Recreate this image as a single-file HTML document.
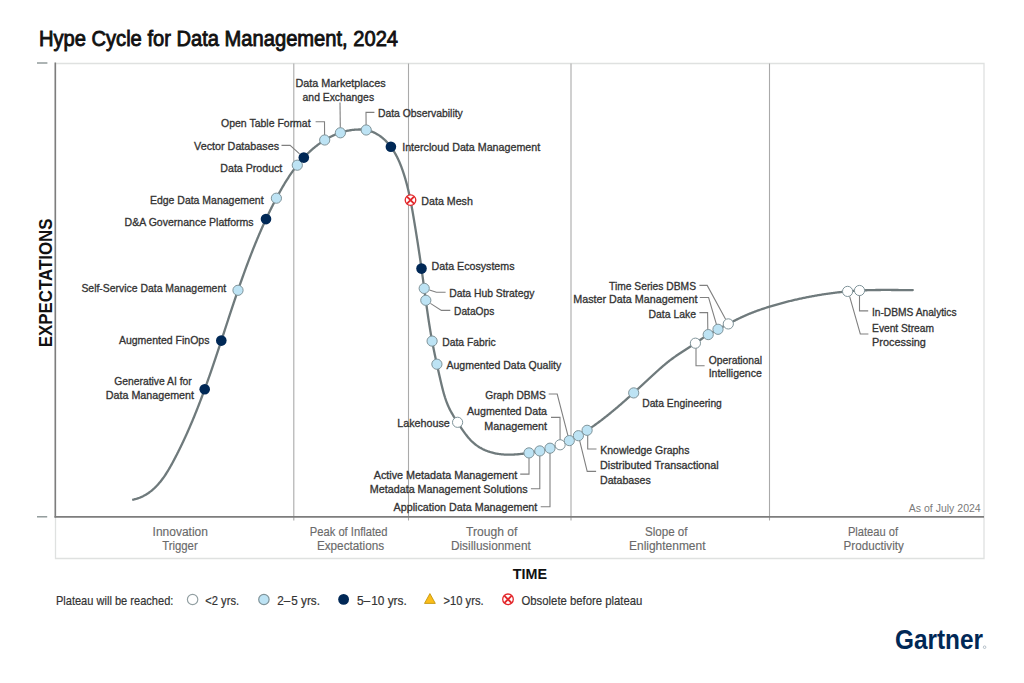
<!DOCTYPE html>
<html><head><meta charset="utf-8"><style>
html,body{margin:0;padding:0;background:#fff;}
svg{display:block;font-family:"Liberation Sans",sans-serif;}
</style></head><body>
<svg width="1024" height="683" viewBox="0 0 1024 683">
<rect x="0" y="0" width="1024" height="683" fill="#fff"/>
<path d="M55.5,63.5 H984 V558.5 H55.5 Z" fill="none" stroke="#dfe1e0" stroke-width="1.3"/>
<line x1="293.8" y1="63.5" x2="293.8" y2="520.5" stroke="#aaaaaa" stroke-width="1.1"/>
<line x1="408.5" y1="63.5" x2="408.5" y2="520.5" stroke="#aaaaaa" stroke-width="1.1"/>
<line x1="571.0" y1="63.5" x2="571.0" y2="520.5" stroke="#aaaaaa" stroke-width="1.1"/>
<line x1="769.5" y1="63.5" x2="769.5" y2="520.5" stroke="#aaaaaa" stroke-width="1.1"/>
<line x1="55.3" y1="62.5" x2="55.3" y2="517.5" stroke="#7d7d7d" stroke-width="1.6"/>
<line x1="54.5" y1="516.9" x2="984" y2="516.9" stroke="#7d7d7d" stroke-width="1.8"/>
<line x1="37" y1="63" x2="47.4" y2="63" stroke="#8a9494" stroke-width="1.4"/>
<line x1="37" y1="516.8" x2="47.2" y2="516.8" stroke="#8a9494" stroke-width="1.4"/>
<text x="38.90" y="45.70" font-size="21.5" font-weight="normal" fill="#111" stroke="#111" stroke-width="0.85" textLength="359.16" lengthAdjust="spacingAndGlyphs">Hype Cycle for Data Management, 2024</text>
<text transform="translate(52.0,347.30) rotate(-90)" x="0" y="0" font-size="17.5" font-weight="bold" fill="#111" textLength="128.81" lengthAdjust="spacingAndGlyphs">EXPECTATIONS</text>
<path d="M133.20,499.71 L134.16,499.48 L135.10,499.22 L136.03,498.96 L136.95,498.67 L137.86,498.36 L138.75,498.04 L139.63,497.71 L140.49,497.35 L141.34,496.98 L142.18,496.60 L143.01,496.20 L143.82,495.78 L144.63,495.35 L145.42,494.90 L146.20,494.44 L146.96,493.97 L147.72,493.48 L148.47,492.98 L149.20,492.46 L149.92,491.93 L150.64,491.39 L151.34,490.84 L152.03,490.27 L152.72,489.69 L153.39,489.10 L154.05,488.50 L154.71,487.89 L155.35,487.26 L155.99,486.63 L156.61,485.99 L157.23,485.33 L157.84,484.67 L158.44,483.99 L159.03,483.31 L159.62,482.62 L160.20,481.92 L160.77,481.21 L161.33,480.50 L161.89,479.77 L162.43,479.04 L162.98,478.30 L163.51,477.56 L164.04,476.81 L164.56,476.05 L165.08,475.28 L165.59,474.51 L166.10,473.74 L166.60,472.95 L167.09,472.17 L167.58,471.38 L168.06,470.58 L168.54,469.78 L169.02,468.98 L169.49,468.17 L169.96,467.36 L170.42,466.55 L170.88,465.73 L171.34,464.91 L171.79,464.09 L172.24,463.27 L172.69,462.44 L173.13,461.62 L173.57,460.79 L174.01,459.96 L174.44,459.14 L174.88,458.31 L175.31,457.48 L175.74,456.65 L176.17,455.82 L176.60,454.99 L177.02,454.16 L177.44,453.33 L177.86,452.50 L178.28,451.67 L178.69,450.83 L179.11,450.00 L179.52,449.17 L179.93,448.34 L180.34,447.50 L180.74,446.67 L181.15,445.83 L181.55,445.00 L181.95,444.16 L182.35,443.33 L182.75,442.49 L183.14,441.65 L183.54,440.82 L183.93,439.98 L184.32,439.14 L184.71,438.30 L185.09,437.46 L185.48,436.62 L185.86,435.78 L186.24,434.94 L186.62,434.10 L187.00,433.26 L187.38,432.42 L187.75,431.58 L188.12,430.74 L188.50,429.89 L188.87,429.05 L189.24,428.21 L189.60,427.36 L189.97,426.52 L190.33,425.67 L190.70,424.83 L191.06,423.98 L191.42,423.14 L191.77,422.29 L192.13,421.44 L192.49,420.59 L192.84,419.74 L193.20,418.90 L193.55,418.05 L193.90,417.20 L194.25,416.35 L194.59,415.50 L194.94,414.64 L195.29,413.79 L195.63,412.94 L195.97,412.09 L196.31,411.24 L196.65,410.38 L196.99,409.53 L197.33,408.67 L197.67,407.82 L198.00,406.96 L198.34,406.11 L198.67,405.25 L199.01,404.39 L199.34,403.54 L199.67,402.68 L200.00,401.82 L200.33,400.96 L200.65,400.10 L200.98,399.24 L201.30,398.38 L201.63,397.52 L201.95,396.66 L202.28,395.80 L202.60,394.94 L202.92,394.07 L203.24,393.21 L203.56,392.35 L203.87,391.49 L204.19,390.62 L204.51,389.76 L204.82,388.89 L205.14,388.03 L205.45,387.16 L205.76,386.30 L206.07,385.43 L206.39,384.56 L206.70,383.70 L207.01,382.83 L207.31,381.96 L207.62,381.10 L207.93,380.23 L208.24,379.36 L208.54,378.49 L208.85,377.62 L209.15,376.75 L209.46,375.88 L209.76,375.01 L210.06,374.14 L210.36,373.27 L210.67,372.40 L210.97,371.53 L211.27,370.66 L211.57,369.79 L211.87,368.92 L212.16,368.05 L212.46,367.17 L212.76,366.30 L213.06,365.43 L213.35,364.56 L213.65,363.68 L213.94,362.81 L214.24,361.94 L214.53,361.06 L214.83,360.19 L215.12,359.31 L215.42,358.44 L215.71,357.56 L216.00,356.69 L216.29,355.81 L216.58,354.94 L216.88,354.06 L217.17,353.19 L217.46,352.31 L217.75,351.44 L218.04,350.56 L218.33,349.69 L218.62,348.81 L218.91,347.93 L219.20,347.06 L219.49,346.18 L219.77,345.30 L220.06,344.43 L220.35,343.55 L220.64,342.67 L220.93,341.80 L221.21,340.92 L221.50,340.04 L221.79,339.17 L222.08,338.29 L222.36,337.41 L222.65,336.53 L222.94,335.66 L223.22,334.78 L223.51,333.90 L223.80,333.02 L224.08,332.15 L224.37,331.27 L224.66,330.39 L224.94,329.51 L225.23,328.63 L225.52,327.76 L225.81,326.88 L226.09,326.00 L226.38,325.12 L226.67,324.25 L226.95,323.37 L227.24,322.49 L227.53,321.61 L227.82,320.74 L228.10,319.86 L228.39,318.98 L228.68,318.10 L228.97,317.23 L229.25,316.35 L229.54,315.47 L229.83,314.59 L230.12,313.72 L230.41,312.84 L230.70,311.96 L230.99,311.09 L231.28,310.21 L231.57,309.33 L231.86,308.46 L232.15,307.58 L232.44,306.70 L232.73,305.83 L233.03,304.95 L233.32,304.07 L233.61,303.20 L233.90,302.32 L234.20,301.45 L234.49,300.57 L234.79,299.70 L235.08,298.82 L235.38,297.95 L235.67,297.07 L235.97,296.20 L236.26,295.32 L236.56,294.45 L236.86,293.57 L237.16,292.70 L237.46,291.83 L237.76,290.95 L238.06,290.08 L238.36,289.21 L238.66,288.34 L238.96,287.46 L239.26,286.59 L239.56,285.72 L239.87,284.85 L240.17,283.98 L240.48,283.10 L240.78,282.23 L241.09,281.36 L241.40,280.49 L241.70,279.62 L242.01,278.75 L242.32,277.88 L242.63,277.01 L242.94,276.15 L243.25,275.28 L243.56,274.41 L243.88,273.54 L244.19,272.67 L244.51,271.81 L244.82,270.94 L245.14,270.07 L245.46,269.21 L245.77,268.34 L246.09,267.47 L246.41,266.61 L246.73,265.74 L247.05,264.88 L247.38,264.02 L247.70,263.15 L248.02,262.29 L248.35,261.43 L248.68,260.56 L249.00,259.70 L249.33,258.84 L249.66,257.98 L249.99,257.12 L250.32,256.26 L250.66,255.40 L250.99,254.54 L251.32,253.68 L251.66,252.82 L252.00,251.96 L252.33,251.11 L252.67,250.25 L253.01,249.39 L253.35,248.54 L253.70,247.68 L254.04,246.83 L254.38,245.97 L254.73,245.12 L255.08,244.26 L255.43,243.41 L255.78,242.56 L256.13,241.71 L256.48,240.85 L256.83,240.00 L257.19,239.15 L257.54,238.30 L257.90,237.45 L258.26,236.60 L258.62,235.76 L258.98,234.91 L259.34,234.06 L259.70,233.21 L260.07,232.37 L260.44,231.52 L260.80,230.68 L261.17,229.83 L261.54,228.99 L261.92,228.15 L262.29,227.31 L262.66,226.46 L263.04,225.62 L263.42,224.78 L263.80,223.94 L264.18,223.10 L264.56,222.27 L264.94,221.43 L265.33,220.59 L265.72,219.76 L266.10,218.92 L266.49,218.08 L266.89,217.25 L267.28,216.42 L267.67,215.58 L268.07,214.75 L268.47,213.92 L268.87,213.09 L269.27,212.26 L269.67,211.43 L270.08,210.60 L270.48,209.77 L270.89,208.95 L271.30,208.12 L271.71,207.29 L272.13,206.47 L272.54,205.65 L272.96,204.82 L273.38,204.00 L273.80,203.18 L274.22,202.36 L274.64,201.54 L275.07,200.72 L275.49,199.90 L275.92,199.08 L276.35,198.26 L276.79,197.45 L277.22,196.63 L277.66,195.82 L278.10,195.01 L278.54,194.19 L278.98,193.38 L279.43,192.57 L279.88,191.76 L280.33,190.96 L280.78,190.15 L281.23,189.35 L281.69,188.54 L282.15,187.74 L282.62,186.94 L283.08,186.15 L283.55,185.35 L284.02,184.56 L284.50,183.76 L284.98,182.97 L285.46,182.19 L285.94,181.40 L286.43,180.62 L286.92,179.84 L287.42,179.06 L287.92,178.28 L288.42,177.51 L288.93,176.73 L289.44,175.96 L289.95,175.20 L290.47,174.43 L290.99,173.67 L291.51,172.92 L292.04,172.16 L292.58,171.41 L293.12,170.66 L293.66,169.91 L294.21,169.17 L294.76,168.43 L295.31,167.70 L295.87,166.96 L296.44,166.23 L297.01,165.51 L297.58,164.79 L298.16,164.07 L298.75,163.35 L299.34,162.64 L299.93,161.94 L300.53,161.23 L301.14,160.53 L301.75,159.84 L302.37,159.15 L302.99,158.46 L303.62,157.78 L304.25,157.10 L304.89,156.43 L305.53,155.76 L306.18,155.09 L306.84,154.43 L307.50,153.78 L308.16,153.13 L308.84,152.49 L309.51,151.85 L310.20,151.21 L310.88,150.59 L311.58,149.97 L312.27,149.35 L312.98,148.74 L313.69,148.14 L314.40,147.55 L315.12,146.96 L315.84,146.38 L316.57,145.80 L317.31,145.24 L318.05,144.68 L318.79,144.12 L319.54,143.58 L320.29,143.04 L321.05,142.51 L321.81,141.99 L322.58,141.48 L323.36,140.98 L324.13,140.48 L324.92,139.99 L325.70,139.52 L326.49,139.05 L327.29,138.59 L328.09,138.14 L328.90,137.70 L329.71,137.27 L330.52,136.85 L331.34,136.44 L332.16,136.04 L332.99,135.65 L333.82,135.27 L334.66,134.90 L335.50,134.54 L336.34,134.19 L337.19,133.85 L338.05,133.53 L338.90,133.22 L339.76,132.91 L340.63,132.62 L341.50,132.34 L342.37,132.08 L343.25,131.82 L344.13,131.58 L345.02,131.35 L345.91,131.13 L346.80,130.93 L347.69,130.74 L348.59,130.56 L349.50,130.40 L350.41,130.24 L351.32,130.11 L352.23,129.98 L353.15,129.87 L354.07,129.77 L355.00,129.69 L355.93,129.62 L356.86,129.57 L357.80,129.53 L358.74,129.51 L359.68,129.50 L360.62,129.52 L361.56,129.55 L362.50,129.60 L363.44,129.68 L364.37,129.78 L365.30,129.91 L366.23,130.06 L367.15,130.24 L368.06,130.45 L368.97,130.69 L369.86,130.96 L370.75,131.25 L371.64,131.56 L372.51,131.90 L373.37,132.26 L374.22,132.65 L375.06,133.05 L375.89,133.48 L376.71,133.93 L377.52,134.40 L378.31,134.88 L379.09,135.39 L379.86,135.91 L380.61,136.45 L381.35,137.01 L382.08,137.58 L382.80,138.17 L383.50,138.77 L384.19,139.39 L384.87,140.03 L385.53,140.67 L386.18,141.33 L386.82,142.00 L387.45,142.69 L388.07,143.38 L388.67,144.09 L389.27,144.81 L389.85,145.54 L390.41,146.28 L390.97,147.02 L391.52,147.78 L392.05,148.54 L392.58,149.31 L393.09,150.09 L393.59,150.88 L394.08,151.67 L394.56,152.47 L395.03,153.27 L395.49,154.07 L395.93,154.89 L396.37,155.70 L396.80,156.53 L397.22,157.35 L397.63,158.18 L398.03,159.02 L398.42,159.86 L398.81,160.70 L399.18,161.54 L399.55,162.39 L399.91,163.25 L400.26,164.10 L400.61,164.96 L400.95,165.82 L401.28,166.69 L401.60,167.55 L401.92,168.42 L402.24,169.29 L402.54,170.16 L402.85,171.03 L403.14,171.91 L403.43,172.79 L403.72,173.66 L404.00,174.54 L404.28,175.42 L404.55,176.30 L404.82,177.19 L405.09,178.07 L405.35,178.95 L405.60,179.84 L405.85,180.72 L406.10,181.61 L406.34,182.50 L406.58,183.39 L406.82,184.28 L407.05,185.17 L407.28,186.06 L407.50,186.96 L407.73,187.85 L407.94,188.75 L408.16,189.64 L408.37,190.54 L408.58,191.44 L408.78,192.33 L408.98,193.23 L409.18,194.13 L409.38,195.03 L409.57,195.93 L409.76,196.83 L409.95,197.74 L410.14,198.64 L410.32,199.54 L410.50,200.44 L410.68,201.35 L410.86,202.25 L411.03,203.16 L411.21,204.06 L411.38,204.97 L411.55,205.88 L411.71,206.78 L411.88,207.69 L412.04,208.60 L412.21,209.51 L412.37,210.42 L412.53,211.32 L412.69,212.23 L412.84,213.14 L413.00,214.05 L413.16,214.96 L413.31,215.87 L413.47,216.78 L413.62,217.69 L413.77,218.60 L413.92,219.51 L414.08,220.42 L414.23,221.33 L414.38,222.24 L414.53,223.15 L414.68,224.06 L414.83,224.97 L414.98,225.88 L415.13,226.79 L415.28,227.70 L415.43,228.61 L415.58,229.52 L415.72,230.43 L415.87,231.34 L416.02,232.25 L416.16,233.16 L416.31,234.07 L416.46,234.98 L416.60,235.89 L416.75,236.80 L416.89,237.72 L417.03,238.63 L417.18,239.54 L417.32,240.45 L417.46,241.36 L417.61,242.27 L417.75,243.18 L417.89,244.09 L418.03,245.00 L418.17,245.91 L418.31,246.83 L418.45,247.74 L418.59,248.65 L418.73,249.56 L418.87,250.47 L419.00,251.38 L419.14,252.30 L419.28,253.21 L419.41,254.12 L419.55,255.03 L419.69,255.94 L419.82,256.86 L419.95,257.77 L420.09,258.68 L420.22,259.59 L420.35,260.51 L420.49,261.42 L420.62,262.33 L420.75,263.25 L420.88,264.16 L421.01,265.07 L421.14,265.99 L421.27,266.90 L421.40,267.81 L421.52,268.73 L421.65,269.64 L421.78,270.55 L421.90,271.47 L422.03,272.38 L422.16,273.30 L422.28,274.21 L422.40,275.12 L422.53,276.04 L422.65,276.95 L422.78,277.87 L422.90,278.78 L423.02,279.70 L423.15,280.61 L423.27,281.53 L423.39,282.44 L423.51,283.35 L423.64,284.27 L423.76,285.18 L423.88,286.10 L424.00,287.01 L424.12,287.93 L424.25,288.84 L424.37,289.76 L424.49,290.67 L424.61,291.59 L424.73,292.50 L424.86,293.42 L424.98,294.33 L425.10,295.25 L425.23,296.16 L425.35,297.08 L425.47,297.99 L425.60,298.91 L425.72,299.82 L425.84,300.74 L425.97,301.65 L426.10,302.56 L426.22,303.48 L426.35,304.39 L426.47,305.31 L426.60,306.22 L426.73,307.13 L426.86,308.05 L426.99,308.96 L427.12,309.88 L427.25,310.79 L427.38,311.70 L427.51,312.61 L427.64,313.53 L427.78,314.44 L427.91,315.35 L428.04,316.27 L428.18,317.18 L428.32,318.09 L428.45,319.00 L428.59,319.92 L428.73,320.83 L428.87,321.74 L429.01,322.65 L429.15,323.56 L429.30,324.47 L429.44,325.38 L429.59,326.29 L429.73,327.20 L429.88,328.11 L430.03,329.02 L430.18,329.93 L430.33,330.84 L430.48,331.75 L430.64,332.66 L430.79,333.57 L430.95,334.48 L431.11,335.39 L431.27,336.30 L431.43,337.20 L431.59,338.11 L431.75,339.02 L431.92,339.92 L432.09,340.83 L432.25,341.74 L432.42,342.64 L432.60,343.55 L432.77,344.45 L432.94,345.36 L433.12,346.26 L433.30,347.17 L433.47,348.07 L433.65,348.98 L433.83,349.88 L434.02,350.79 L434.20,351.69 L434.39,352.59 L434.57,353.50 L434.76,354.40 L434.95,355.30 L435.14,356.20 L435.33,357.11 L435.52,358.01 L435.71,358.91 L435.91,359.81 L436.10,360.72 L436.30,361.62 L436.49,362.52 L436.69,363.42 L436.89,364.32 L437.09,365.23 L437.29,366.13 L437.49,367.03 L437.69,367.93 L437.89,368.83 L438.09,369.73 L438.30,370.63 L438.50,371.53 L438.71,372.44 L438.91,373.34 L439.12,374.24 L439.33,375.14 L439.53,376.04 L439.74,376.94 L439.95,377.84 L440.16,378.74 L440.36,379.65 L440.57,380.55 L440.78,381.45 L440.99,382.35 L441.21,383.25 L441.42,384.15 L441.63,385.05 L441.85,385.95 L442.07,386.85 L442.29,387.75 L442.52,388.64 L442.75,389.54 L442.98,390.43 L443.22,391.32 L443.46,392.21 L443.71,393.10 L443.96,393.98 L444.22,394.86 L444.49,395.74 L444.76,396.62 L445.03,397.50 L445.32,398.37 L445.61,399.24 L445.91,400.10 L446.21,400.97 L446.53,401.83 L446.85,402.68 L447.18,403.53 L447.53,404.38 L447.88,405.22 L448.24,406.06 L448.61,406.90 L448.99,407.73 L449.38,408.55 L449.79,409.38 L450.21,410.19 L450.63,411.00 L451.07,411.81 L451.52,412.61 L451.98,413.41 L452.44,414.20 L452.92,414.99 L453.40,415.78 L453.88,416.57 L454.38,417.35 L454.87,418.14 L455.37,418.92 L455.87,419.70 L456.38,420.48 L456.88,421.26 L457.39,422.04 L457.90,422.82 L458.40,423.61 L458.91,424.39 L459.41,425.17 L459.92,425.95 L460.43,426.73 L460.94,427.51 L461.45,428.29 L461.97,429.06 L462.49,429.83 L463.02,430.59 L463.54,431.35 L464.08,432.11 L464.62,432.86 L465.16,433.60 L465.72,434.34 L466.28,435.07 L466.84,435.79 L467.42,436.51 L468.00,437.21 L468.60,437.91 L469.20,438.60 L469.81,439.27 L470.43,439.94 L471.07,440.59 L471.71,441.24 L472.37,441.87 L473.04,442.49 L473.73,443.09 L474.43,443.68 L475.14,444.26 L475.86,444.82 L476.60,445.37 L477.36,445.90 L478.13,446.42 L478.91,446.92 L479.70,447.41 L480.50,447.88 L481.31,448.33 L482.13,448.77 L482.96,449.19 L483.80,449.59 L484.64,449.98 L485.49,450.35 L486.35,450.71 L487.21,451.05 L488.07,451.37 L488.94,451.67 L489.81,451.96 L490.69,452.23 L491.56,452.48 L492.45,452.72 L493.33,452.94 L494.22,453.15 L495.11,453.34 L496.00,453.52 L496.90,453.69 L497.80,453.84 L498.70,453.98 L499.61,454.10 L500.51,454.21 L501.42,454.31 L502.33,454.39 L503.25,454.47 L504.16,454.53 L505.08,454.58 L506.00,454.62 L506.91,454.65 L507.84,454.67 L508.76,454.67 L509.68,454.67 L510.61,454.66 L511.53,454.64 L512.46,454.61 L513.39,454.57 L514.31,454.52 L515.24,454.46 L516.17,454.40 L517.10,454.33 L518.03,454.25 L518.96,454.16 L519.89,454.07 L520.82,453.97 L521.75,453.87 L522.68,453.76 L523.61,453.64 L524.53,453.52 L525.46,453.39 L526.39,453.26 L527.31,453.13 L528.24,452.99 L529.16,452.85 L530.08,452.70 L531.01,452.55 L531.92,452.40 L532.84,452.24 L533.76,452.08 L534.68,451.92 L535.59,451.75 L536.50,451.57 L537.41,451.39 L538.32,451.21 L539.23,451.02 L540.13,450.83 L541.04,450.63 L541.94,450.42 L542.84,450.21 L543.73,449.99 L544.63,449.77 L545.52,449.54 L546.41,449.31 L547.30,449.06 L548.19,448.82 L549.07,448.56 L549.95,448.30 L550.83,448.03 L551.71,447.75 L552.58,447.47 L553.46,447.18 L554.33,446.88 L555.19,446.58 L556.06,446.27 L556.92,445.95 L557.78,445.63 L558.63,445.30 L559.49,444.96 L560.34,444.62 L561.19,444.27 L562.04,443.91 L562.88,443.55 L563.73,443.19 L564.57,442.81 L565.40,442.43 L566.24,442.05 L567.07,441.66 L567.90,441.26 L568.73,440.86 L569.56,440.45 L570.38,440.04 L571.20,439.62 L572.02,439.20 L572.84,438.77 L573.66,438.34 L574.47,437.90 L575.28,437.46 L576.09,437.01 L576.89,436.56 L577.70,436.10 L578.50,435.64 L579.30,435.17 L580.09,434.70 L580.89,434.23 L581.68,433.75 L582.47,433.27 L583.26,432.78 L584.05,432.29 L584.83,431.79 L585.61,431.29 L586.39,430.79 L587.17,430.28 L587.95,429.77 L588.72,429.26 L589.49,428.74 L590.26,428.22 L591.03,427.70 L591.79,427.17 L592.56,426.64 L593.32,426.10 L594.08,425.57 L594.83,425.03 L595.59,424.49 L596.34,423.94 L597.09,423.39 L597.84,422.84 L598.59,422.29 L599.33,421.73 L600.08,421.17 L600.82,420.61 L601.56,420.05 L602.30,419.49 L603.03,418.92 L603.76,418.35 L604.50,417.78 L605.22,417.21 L605.95,416.63 L606.68,416.06 L607.40,415.48 L608.12,414.90 L608.84,414.32 L609.56,413.74 L610.28,413.16 L610.99,412.57 L611.71,411.98 L612.42,411.40 L613.13,410.81 L613.84,410.22 L614.54,409.63 L615.25,409.04 L615.95,408.44 L616.65,407.85 L617.35,407.26 L618.05,406.66 L618.75,406.06 L619.44,405.46 L620.14,404.86 L620.83,404.26 L621.53,403.66 L622.22,403.06 L622.91,402.46 L623.60,401.85 L624.28,401.25 L624.97,400.64 L625.66,400.03 L626.34,399.42 L627.03,398.82 L627.71,398.21 L628.39,397.60 L629.07,396.98 L629.75,396.37 L630.43,395.76 L631.11,395.15 L631.79,394.53 L632.47,393.92 L633.15,393.30 L633.83,392.68 L634.50,392.07 L635.18,391.45 L635.86,390.83 L636.53,390.21 L637.21,389.59 L637.88,388.97 L638.56,388.35 L639.23,387.73 L639.91,387.11 L640.58,386.49 L641.26,385.87 L641.93,385.24 L642.61,384.62 L643.28,384.00 L643.96,383.37 L644.63,382.75 L645.30,382.12 L645.98,381.50 L646.66,380.87 L647.33,380.25 L648.01,379.62 L648.68,379.00 L649.36,378.37 L650.04,377.74 L650.72,377.12 L651.39,376.49 L652.07,375.86 L652.75,375.24 L653.43,374.61 L654.11,373.98 L654.80,373.36 L655.48,372.73 L656.16,372.11 L656.85,371.49 L657.54,370.86 L658.23,370.25 L658.92,369.63 L659.61,369.01 L660.30,368.40 L661.00,367.79 L661.70,367.18 L662.40,366.57 L663.10,365.97 L663.80,365.37 L664.51,364.77 L665.22,364.18 L665.94,363.59 L666.65,363.01 L667.37,362.43 L668.09,361.85 L668.82,361.28 L669.54,360.71 L670.28,360.15 L671.01,359.59 L671.75,359.04 L672.49,358.49 L673.24,357.95 L673.98,357.41 L674.74,356.87 L675.49,356.34 L676.25,355.82 L677.00,355.29 L677.77,354.77 L678.53,354.26 L679.29,353.74 L680.06,353.23 L680.83,352.72 L681.60,352.21 L682.37,351.71 L683.14,351.20 L683.91,350.70 L684.69,350.20 L685.46,349.70 L686.23,349.19 L687.01,348.69 L687.78,348.19 L688.56,347.69 L689.33,347.19 L690.10,346.68 L690.88,346.18 L691.65,345.67 L692.42,345.17 L693.19,344.66 L693.96,344.14 L694.72,343.63 L695.49,343.11 L696.25,342.59 L697.01,342.07 L697.77,341.55 L698.53,341.02 L699.29,340.50 L700.05,339.98 L700.81,339.45 L701.58,338.93 L702.34,338.41 L703.10,337.90 L703.87,337.39 L704.64,336.88 L705.41,336.38 L706.19,335.88 L706.97,335.39 L707.76,334.91 L708.55,334.44 L709.34,333.97 L710.14,333.51 L710.94,333.06 L711.75,332.62 L712.56,332.17 L713.37,331.74 L714.18,331.30 L715.00,330.87 L715.81,330.44 L716.63,330.01 L717.45,329.58 L718.27,329.15 L719.08,328.73 L719.90,328.30 L720.72,327.86 L721.53,327.43 L722.35,327.00 L723.16,326.57 L723.98,326.14 L724.80,325.71 L725.61,325.28 L726.43,324.85 L727.24,324.42 L728.06,323.99 L728.88,323.56 L729.70,323.14 L730.52,322.71 L731.33,322.29 L732.15,321.87 L732.98,321.45 L733.80,321.03 L734.62,320.61 L735.44,320.20 L736.27,319.79 L737.09,319.38 L737.92,318.97 L738.75,318.57 L739.58,318.17 L740.41,317.78 L741.24,317.38 L742.08,316.99 L742.91,316.61 L743.75,316.23 L744.59,315.85 L745.43,315.47 L746.28,315.10 L747.12,314.74 L747.97,314.38 L748.82,314.02 L749.67,313.67 L750.52,313.33 L751.38,312.98 L752.24,312.65 L753.10,312.31 L753.96,311.98 L754.82,311.66 L755.69,311.34 L756.55,311.02 L757.42,310.70 L758.29,310.39 L759.16,310.09 L760.03,309.78 L760.90,309.48 L761.78,309.18 L762.65,308.89 L763.53,308.60 L764.41,308.31 L765.28,308.03 L766.16,307.74 L767.04,307.46 L767.92,307.19 L768.80,306.91 L769.69,306.64 L770.57,306.37 L771.45,306.10 L772.33,305.84 L773.22,305.57 L774.10,305.31 L774.99,305.05 L775.87,304.80 L776.76,304.54 L777.65,304.29 L778.53,304.04 L779.42,303.79 L780.31,303.55 L781.20,303.31 L782.09,303.06 L782.98,302.83 L783.87,302.59 L784.76,302.36 L785.65,302.12 L786.54,301.89 L787.44,301.67 L788.33,301.44 L789.22,301.22 L790.12,301.00 L791.01,300.78 L791.91,300.56 L792.80,300.35 L793.70,300.14 L794.60,299.93 L795.49,299.72 L796.39,299.51 L797.29,299.31 L798.19,299.11 L799.09,298.91 L799.99,298.71 L800.89,298.52 L801.79,298.33 L802.69,298.14 L803.59,297.95 L804.49,297.76 L805.39,297.58 L806.30,297.39 L807.20,297.21 L808.11,297.04 L809.01,296.86 L809.91,296.69 L810.82,296.52 L811.73,296.35 L812.63,296.18 L813.54,296.01 L814.45,295.85 L815.35,295.69 L816.26,295.53 L817.17,295.37 L818.08,295.22 L818.99,295.06 L819.90,294.91 L820.81,294.76 L821.72,294.62 L822.63,294.47 L823.54,294.33 L824.45,294.19 L825.37,294.05 L826.28,293.92 L827.19,293.78 L828.10,293.65 L829.02,293.52 L829.93,293.39 L830.85,293.27 L831.76,293.15 L832.68,293.03 L833.59,292.91 L834.51,292.79 L835.42,292.68 L836.34,292.57 L837.25,292.46 L838.17,292.35 L839.09,292.25 L840.01,292.15 L840.92,292.05 L841.84,291.95 L842.76,291.85 L843.68,291.76 L844.59,291.67 L845.51,291.58 L846.43,291.50 L847.35,291.41 L848.27,291.33 L849.19,291.25 L850.11,291.18 L851.03,291.11 L851.95,291.03 L852.87,290.97 L853.79,290.90 L854.71,290.84 L855.63,290.78 L856.55,290.72 L857.47,290.66 L858.39,290.61 L859.31,290.56 L860.23,290.51 L861.15,290.46 L862.07,290.42 L862.99,290.38 L863.91,290.34 L864.83,290.30 L865.75,290.27 L866.67,290.24 L867.60,290.21 L868.52,290.18 L869.44,290.15 L870.36,290.13 L871.28,290.11 L872.20,290.09 L873.12,290.07 L874.05,290.05 L874.97,290.04 L875.89,290.02 L876.81,290.01 L877.73,290.00 L878.65,289.99 L879.58,289.98 L880.50,289.98 L881.42,289.97 L882.34,289.97 L883.26,289.97 L884.19,289.96 L885.11,289.96 L886.03,289.96 L886.95,289.96 L887.88,289.96 L888.80,289.97 L889.72,289.97 L890.64,289.97 L891.57,289.98 L892.49,289.98 L893.41,289.99 L894.33,289.99 L895.26,290.00 L896.18,290.01 L897.10,290.01 L898.03,290.02 L898.95,290.03 L899.87,290.03 L900.80,290.04 L901.72,290.05 L902.64,290.05 L903.57,290.06 L904.49,290.07 L905.41,290.07 L906.34,290.08 L907.26,290.08 L908.18,290.09 L909.11,290.09 L910.03,290.09 L910.95,290.10 L911.88,290.10 L912.80,290.10" fill="none" stroke="#6f7a7c" stroke-width="2.3" stroke-linecap="round" stroke-linejoin="round"/>
<path d="M281.50,145.40 L290.10,145.40 L299.60,153.80" fill="none" stroke="#808080" stroke-width="1.1"/>
<path d="M315.60,121.80 L324.50,121.80 L324.60,135.20" fill="none" stroke="#808080" stroke-width="1.1"/>
<path d="M340.00,102.40 L340.30,127.80" fill="none" stroke="#808080" stroke-width="1.1"/>
<path d="M374.40,112.40 L366.00,112.40 L366.10,125.00" fill="none" stroke="#808080" stroke-width="1.1"/>
<path d="M429.40,289.90 L436.40,292.30 L445.60,292.30" fill="none" stroke="#808080" stroke-width="1.1"/>
<path d="M430.40,303.40 L441.40,310.40 L450.30,310.40" fill="none" stroke="#808080" stroke-width="1.1"/>
<path d="M548.70,394.00 L557.20,394.00 L568.00,435.80" fill="none" stroke="#808080" stroke-width="1.1"/>
<path d="M551.00,417.40 L560.00,417.40 L560.10,440.00" fill="none" stroke="#808080" stroke-width="1.1"/>
<path d="M520.20,474.10 L529.00,474.10 L529.00,457.60" fill="none" stroke="#808080" stroke-width="1.1"/>
<path d="M530.90,488.80 L539.80,488.80 L539.80,455.60" fill="none" stroke="#808080" stroke-width="1.1"/>
<path d="M540.70,506.80 L550.00,506.80 L550.00,452.90" fill="none" stroke="#808080" stroke-width="1.1"/>
<path d="M579.60,440.40 L587.20,471.40 L596.10,471.40" fill="none" stroke="#808080" stroke-width="1.1"/>
<path d="M587.70,435.00 L587.70,449.00 L596.50,449.00" fill="none" stroke="#808080" stroke-width="1.1"/>
<path d="M699.40,285.40 L707.20,285.40 L725.60,319.20" fill="none" stroke="#808080" stroke-width="1.1"/>
<path d="M699.80,297.50 L708.60,297.50 L716.50,324.60" fill="none" stroke="#808080" stroke-width="1.1"/>
<path d="M699.40,312.60 L707.60,312.60 L707.80,329.80" fill="none" stroke="#808080" stroke-width="1.1"/>
<path d="M696.00,348.00 L696.00,365.70 L704.60,365.70" fill="none" stroke="#808080" stroke-width="1.1"/>
<path d="M859.50,295.20 L859.50,310.90 L868.20,310.90" fill="none" stroke="#808080" stroke-width="1.1"/>
<path d="M849.60,296.40 L860.30,334.00 L868.40,334.00" fill="none" stroke="#808080" stroke-width="1.1"/>
<circle cx="204.7" cy="389.2" r="5.3" fill="#002856"/>
<circle cx="221.3" cy="340.6" r="5.3" fill="#002856"/>
<circle cx="238.0" cy="290.3" r="5.1" fill="#bde3f4" stroke="#80949a" stroke-width="1"/>
<circle cx="266.0" cy="219.1" r="5.3" fill="#002856"/>
<circle cx="276.4" cy="198.2" r="5.1" fill="#bde3f4" stroke="#80949a" stroke-width="1"/>
<circle cx="297.3" cy="165.2" r="5.1" fill="#bde3f4" stroke="#80949a" stroke-width="1"/>
<circle cx="303.8" cy="157.6" r="5.3" fill="#002856"/>
<circle cx="324.7" cy="140.0" r="5.1" fill="#bde3f4" stroke="#80949a" stroke-width="1"/>
<circle cx="340.4" cy="132.8" r="5.1" fill="#bde3f4" stroke="#80949a" stroke-width="1"/>
<circle cx="366.2" cy="130.0" r="5.1" fill="#bde3f4" stroke="#80949a" stroke-width="1"/>
<circle cx="390.9" cy="146.8" r="5.3" fill="#002856"/>
<circle cx="410.5" cy="200.1" r="5.3" fill="#fff" stroke="#e3262a" stroke-width="1.3"/>
<path d="M407.0,196.6 L414.0,203.6 M414.0,196.6 L407.0,203.6" stroke="#e3262a" stroke-width="1.9"/>
<circle cx="421.5" cy="268.6" r="5.3" fill="#002856"/>
<circle cx="424.2" cy="288.4" r="5.1" fill="#bde3f4" stroke="#80949a" stroke-width="1"/>
<circle cx="425.8" cy="300.3" r="5.1" fill="#bde3f4" stroke="#80949a" stroke-width="1"/>
<circle cx="432.1" cy="341.1" r="5.1" fill="#bde3f4" stroke="#80949a" stroke-width="1"/>
<circle cx="436.9" cy="364.2" r="5.1" fill="#bde3f4" stroke="#80949a" stroke-width="1"/>
<circle cx="457.6" cy="422.3" r="5.1" fill="#fff" stroke="#80949a" stroke-width="1"/>
<circle cx="529.0" cy="452.9" r="5.1" fill="#bde3f4" stroke="#80949a" stroke-width="1"/>
<circle cx="539.8" cy="450.9" r="5.1" fill="#bde3f4" stroke="#80949a" stroke-width="1"/>
<circle cx="550.0" cy="448.2" r="5.1" fill="#bde3f4" stroke="#80949a" stroke-width="1"/>
<circle cx="560.1" cy="444.8" r="5.1" fill="#fff" stroke="#80949a" stroke-width="1"/>
<circle cx="569.3" cy="440.6" r="5.1" fill="#bde3f4" stroke="#80949a" stroke-width="1"/>
<circle cx="578.4" cy="435.7" r="5.1" fill="#bde3f4" stroke="#80949a" stroke-width="1"/>
<circle cx="587.1" cy="430.3" r="5.1" fill="#bde3f4" stroke="#80949a" stroke-width="1"/>
<circle cx="633.7" cy="392.9" r="5.1" fill="#bde3f4" stroke="#80949a" stroke-width="1"/>
<circle cx="695.4" cy="343.2" r="5.1" fill="#fff" stroke="#80949a" stroke-width="1"/>
<circle cx="708.2" cy="334.6" r="5.1" fill="#bde3f4" stroke="#80949a" stroke-width="1"/>
<circle cx="718.0" cy="329.3" r="5.1" fill="#bde3f4" stroke="#80949a" stroke-width="1"/>
<circle cx="728.3" cy="323.9" r="5.1" fill="#fff" stroke="#80949a" stroke-width="1"/>
<circle cx="847.6" cy="291.4" r="5.1" fill="#fff" stroke="#80949a" stroke-width="1"/>
<circle cx="859.5" cy="290.5" r="5.1" fill="#fff" stroke="#80949a" stroke-width="1"/>
<text x="295.40" y="86.70" font-size="11.3" font-weight="normal" fill="#333333" stroke="#333333" stroke-width="0.32" textLength="90.22" lengthAdjust="spacingAndGlyphs">Data Marketplaces</text>
<text x="302.60" y="101.00" font-size="11.3" font-weight="normal" fill="#333333" stroke="#333333" stroke-width="0.32" textLength="71.49" lengthAdjust="spacingAndGlyphs">and Exchanges</text>
<text x="377.90" y="116.90" font-size="11.3" font-weight="normal" fill="#333333" stroke="#333333" stroke-width="0.32" textLength="84.90" lengthAdjust="spacingAndGlyphs">Data Observability</text>
<text x="221.00" y="126.70" font-size="11.3" font-weight="normal" fill="#333333" stroke="#333333" stroke-width="0.32" textLength="89.62" lengthAdjust="spacingAndGlyphs">Open Table Format</text>
<text x="194.10" y="150.20" font-size="11.3" font-weight="normal" fill="#333333" stroke="#333333" stroke-width="0.32" textLength="84.99" lengthAdjust="spacingAndGlyphs">Vector Databases</text>
<text x="402.20" y="151.20" font-size="11.3" font-weight="normal" fill="#333333" stroke="#333333" stroke-width="0.32" textLength="138.02" lengthAdjust="spacingAndGlyphs">Intercloud Data Management</text>
<text x="220.30" y="172.40" font-size="11.3" font-weight="normal" fill="#333333" stroke="#333333" stroke-width="0.32" textLength="62.02" lengthAdjust="spacingAndGlyphs">Data Product</text>
<text x="149.90" y="203.80" font-size="11.3" font-weight="normal" fill="#333333" stroke="#333333" stroke-width="0.32" textLength="113.71" lengthAdjust="spacingAndGlyphs">Edge Data Management</text>
<text x="421.30" y="204.60" font-size="11.3" font-weight="normal" fill="#333333" stroke="#333333" stroke-width="0.32" textLength="51.61" lengthAdjust="spacingAndGlyphs">Data Mesh</text>
<text x="124.60" y="226.20" font-size="11.3" font-weight="normal" fill="#333333" stroke="#333333" stroke-width="0.32" textLength="128.98" lengthAdjust="spacingAndGlyphs">D&amp;A Governance Platforms</text>
<text x="431.60" y="270.00" font-size="11.3" font-weight="normal" fill="#333333" stroke="#333333" stroke-width="0.32" textLength="82.90" lengthAdjust="spacingAndGlyphs">Data Ecosystems</text>
<text x="81.40" y="292.00" font-size="11.3" font-weight="normal" fill="#333333" stroke="#333333" stroke-width="0.32" textLength="144.71" lengthAdjust="spacingAndGlyphs">Self-Service Data Management</text>
<text x="449.20" y="297.40" font-size="11.3" font-weight="normal" fill="#333333" stroke="#333333" stroke-width="0.32" textLength="85.22" lengthAdjust="spacingAndGlyphs">Data Hub Strategy</text>
<text x="454.10" y="315.30" font-size="11.3" font-weight="normal" fill="#333333" stroke="#333333" stroke-width="0.32" textLength="40.21" lengthAdjust="spacingAndGlyphs">DataOps</text>
<text x="118.90" y="344.30" font-size="11.3" font-weight="normal" fill="#333333" stroke="#333333" stroke-width="0.32" textLength="90.51" lengthAdjust="spacingAndGlyphs">Augmented FinOps</text>
<text x="442.20" y="346.00" font-size="11.3" font-weight="normal" fill="#333333" stroke="#333333" stroke-width="0.32" textLength="53.49" lengthAdjust="spacingAndGlyphs">Data Fabric</text>
<text x="446.40" y="368.60" font-size="11.3" font-weight="normal" fill="#333333" stroke="#333333" stroke-width="0.32" textLength="114.90" lengthAdjust="spacingAndGlyphs">Augmented Data Quality</text>
<text x="114.20" y="384.90" font-size="11.3" font-weight="normal" fill="#333333" stroke="#333333" stroke-width="0.32" textLength="77.59" lengthAdjust="spacingAndGlyphs">Generative AI for</text>
<text x="105.80" y="399.10" font-size="11.3" font-weight="normal" fill="#333333" stroke="#333333" stroke-width="0.32" textLength="88.22" lengthAdjust="spacingAndGlyphs">Data Management</text>
<text x="485.30" y="398.90" font-size="11.3" font-weight="normal" fill="#333333" stroke="#333333" stroke-width="0.32" textLength="60.62" lengthAdjust="spacingAndGlyphs">Graph DBMS</text>
<text x="467.00" y="415.40" font-size="11.3" font-weight="normal" fill="#333333" stroke="#333333" stroke-width="0.32" textLength="80.05" lengthAdjust="spacingAndGlyphs">Augmented Data</text>
<text x="484.20" y="429.60" font-size="11.3" font-weight="normal" fill="#333333" stroke="#333333" stroke-width="0.32" textLength="62.92" lengthAdjust="spacingAndGlyphs">Management</text>
<text x="397.20" y="427.40" font-size="11.3" font-weight="normal" fill="#333333" stroke="#333333" stroke-width="0.32" textLength="52.58" lengthAdjust="spacingAndGlyphs">Lakehouse</text>
<text x="600.30" y="453.70" font-size="11.3" font-weight="normal" fill="#333333" stroke="#333333" stroke-width="0.32" textLength="89.11" lengthAdjust="spacingAndGlyphs">Knowledge Graphs</text>
<text x="600.00" y="468.90" font-size="11.3" font-weight="normal" fill="#333333" stroke="#333333" stroke-width="0.32" textLength="118.76" lengthAdjust="spacingAndGlyphs">Distributed Transactional</text>
<text x="600.00" y="483.70" font-size="11.3" font-weight="normal" fill="#333333" stroke="#333333" stroke-width="0.32" textLength="50.81" lengthAdjust="spacingAndGlyphs">Databases</text>
<text x="373.70" y="478.60" font-size="11.3" font-weight="normal" fill="#333333" stroke="#333333" stroke-width="0.32" textLength="143.51" lengthAdjust="spacingAndGlyphs">Active Metadata Management</text>
<text x="369.80" y="493.10" font-size="11.3" font-weight="normal" fill="#333333" stroke="#333333" stroke-width="0.32" textLength="157.81" lengthAdjust="spacingAndGlyphs">Metadata Management Solutions</text>
<text x="393.60" y="511.30" font-size="11.3" font-weight="normal" fill="#333333" stroke="#333333" stroke-width="0.32" textLength="143.73" lengthAdjust="spacingAndGlyphs">Application Data Management</text>
<text x="642.20" y="407.00" font-size="11.3" font-weight="normal" fill="#333333" stroke="#333333" stroke-width="0.32" textLength="79.68" lengthAdjust="spacingAndGlyphs">Data Engineering</text>
<text x="609.00" y="290.30" font-size="11.3" font-weight="normal" fill="#333333" stroke="#333333" stroke-width="0.32" textLength="87.00" lengthAdjust="spacingAndGlyphs">Time Series DBMS</text>
<text x="573.30" y="303.20" font-size="11.3" font-weight="normal" fill="#333333" stroke="#333333" stroke-width="0.32" textLength="124.21" lengthAdjust="spacingAndGlyphs">Master Data Management</text>
<text x="648.50" y="317.60" font-size="11.3" font-weight="normal" fill="#333333" stroke="#333333" stroke-width="0.32" textLength="47.49" lengthAdjust="spacingAndGlyphs">Data Lake</text>
<text x="708.70" y="363.70" font-size="11.3" font-weight="normal" fill="#333333" stroke="#333333" stroke-width="0.32" textLength="53.40" lengthAdjust="spacingAndGlyphs">Operational</text>
<text x="708.70" y="377.20" font-size="11.3" font-weight="normal" fill="#333333" stroke="#333333" stroke-width="0.32" textLength="53.09" lengthAdjust="spacingAndGlyphs">Intelligence</text>
<text x="871.90" y="315.70" font-size="11.3" font-weight="normal" fill="#333333" stroke="#333333" stroke-width="0.32" textLength="84.71" lengthAdjust="spacingAndGlyphs">In-DBMS Analytics</text>
<text x="872.10" y="331.80" font-size="11.3" font-weight="normal" fill="#333333" stroke="#333333" stroke-width="0.32" textLength="61.88" lengthAdjust="spacingAndGlyphs">Event Stream</text>
<text x="872.10" y="346.20" font-size="11.3" font-weight="normal" fill="#333333" stroke="#333333" stroke-width="0.32" textLength="53.82" lengthAdjust="spacingAndGlyphs">Processing</text>
<text x="908.80" y="511.60" font-size="10.5" font-weight="normal" fill="#7a7a7a" textLength="71.87" lengthAdjust="spacingAndGlyphs">As of July 2024</text>
<text x="152.60" y="535.90" font-size="12.5" font-weight="normal" fill="#6a6a6a" stroke="#6a6a6a" stroke-width="0.15" textLength="55.30" lengthAdjust="spacingAndGlyphs">Innovation</text>
<text x="162.20" y="549.80" font-size="12.5" font-weight="normal" fill="#6a6a6a" stroke="#6a6a6a" stroke-width="0.15" textLength="35.51" lengthAdjust="spacingAndGlyphs">Trigger</text>
<text x="309.80" y="535.90" font-size="12.5" font-weight="normal" fill="#6a6a6a" stroke="#6a6a6a" stroke-width="0.15" textLength="77.69" lengthAdjust="spacingAndGlyphs">Peak of Inflated</text>
<text x="316.90" y="549.80" font-size="12.5" font-weight="normal" fill="#6a6a6a" stroke="#6a6a6a" stroke-width="0.15" textLength="67.21" lengthAdjust="spacingAndGlyphs">Expectations</text>
<text x="466.10" y="535.60" font-size="12.5" font-weight="normal" fill="#6a6a6a" stroke="#6a6a6a" stroke-width="0.15" textLength="51.18" lengthAdjust="spacingAndGlyphs">Trough of</text>
<text x="450.90" y="549.80" font-size="12.5" font-weight="normal" fill="#6a6a6a" stroke="#6a6a6a" stroke-width="0.15" textLength="79.90" lengthAdjust="spacingAndGlyphs">Disillusionment</text>
<text x="644.90" y="535.60" font-size="12.5" font-weight="normal" fill="#6a6a6a" stroke="#6a6a6a" stroke-width="0.15" textLength="42.69" lengthAdjust="spacingAndGlyphs">Slope of</text>
<text x="629.00" y="549.80" font-size="12.5" font-weight="normal" fill="#6a6a6a" stroke="#6a6a6a" stroke-width="0.15" textLength="76.48" lengthAdjust="spacingAndGlyphs">Enlightenment</text>
<text x="847.90" y="535.70" font-size="12.5" font-weight="normal" fill="#6a6a6a" stroke="#6a6a6a" stroke-width="0.15" textLength="50.08" lengthAdjust="spacingAndGlyphs">Plateau of</text>
<text x="843.60" y="549.80" font-size="12.5" font-weight="normal" fill="#6a6a6a" stroke="#6a6a6a" stroke-width="0.15" textLength="60.18" lengthAdjust="spacingAndGlyphs">Productivity</text>
<text x="512.70" y="578.60" font-size="14" font-weight="bold" fill="#111" textLength="34.28" lengthAdjust="spacingAndGlyphs">TIME</text>
<text x="55.90" y="604.60" font-size="12.8" font-weight="normal" fill="#333333" stroke="#333333" stroke-width="0.2" textLength="117.48" lengthAdjust="spacingAndGlyphs">Plateau will be reached:</text>
<circle cx="192.6" cy="599.5" r="5.2" fill="#fff" stroke="#93a0a3" stroke-width="1.2"/>
<text x="205.30" y="604.60" font-size="12.8" font-weight="normal" fill="#333333" stroke="#333333" stroke-width="0.2" textLength="33.79" lengthAdjust="spacingAndGlyphs">&lt;2 yrs.</text>
<circle cx="263.9" cy="599.5" r="5.2" fill="#bde3f4" stroke="#80949a" stroke-width="1.2"/>
<text x="277.30" y="604.60" font-size="12.8" font-weight="normal" fill="#333333" stroke="#333333" stroke-width="0.2" textLength="42.61" lengthAdjust="spacingAndGlyphs">2– 5 yrs.</text>
<circle cx="343.6" cy="599.4" r="5.4" fill="#002856"/>
<text x="357.00" y="604.60" font-size="12.8" font-weight="normal" fill="#333333" stroke="#333333" stroke-width="0.2" textLength="49.82" lengthAdjust="spacingAndGlyphs">5– 10 yrs.</text>
<path d="M429.9,593.6 L435.3,603.4 L424.5,603.4 Z" fill="#fbbd19" stroke="#c4960f" stroke-width="0.9" stroke-linejoin="round"/>
<text x="443.60" y="604.60" font-size="12.8" font-weight="normal" fill="#333333" stroke="#333333" stroke-width="0.2" textLength="40.00" lengthAdjust="spacingAndGlyphs">&gt;10 yrs.</text>
<circle cx="508.0" cy="599.3" r="5.3" fill="#fff" stroke="#e3262a" stroke-width="1.3"/>
<path d="M504.5,595.8 L511.5,602.8 M511.5,595.8 L504.5,602.8" stroke="#e3262a" stroke-width="1.9"/>
<text x="521.50" y="604.60" font-size="12.8" font-weight="normal" fill="#333333" stroke="#333333" stroke-width="0.2" textLength="120.89" lengthAdjust="spacingAndGlyphs">Obsolete before plateau</text>
<text x="895.00" y="648.60" font-size="28.5" font-weight="bold" fill="#002856" textLength="88.06" lengthAdjust="spacingAndGlyphs">Gartner</text>
<circle cx="984.6" cy="647.2" r="1.3" fill="none" stroke="#8a9aaa" stroke-width="0.6"/>
</svg>
</body></html>
